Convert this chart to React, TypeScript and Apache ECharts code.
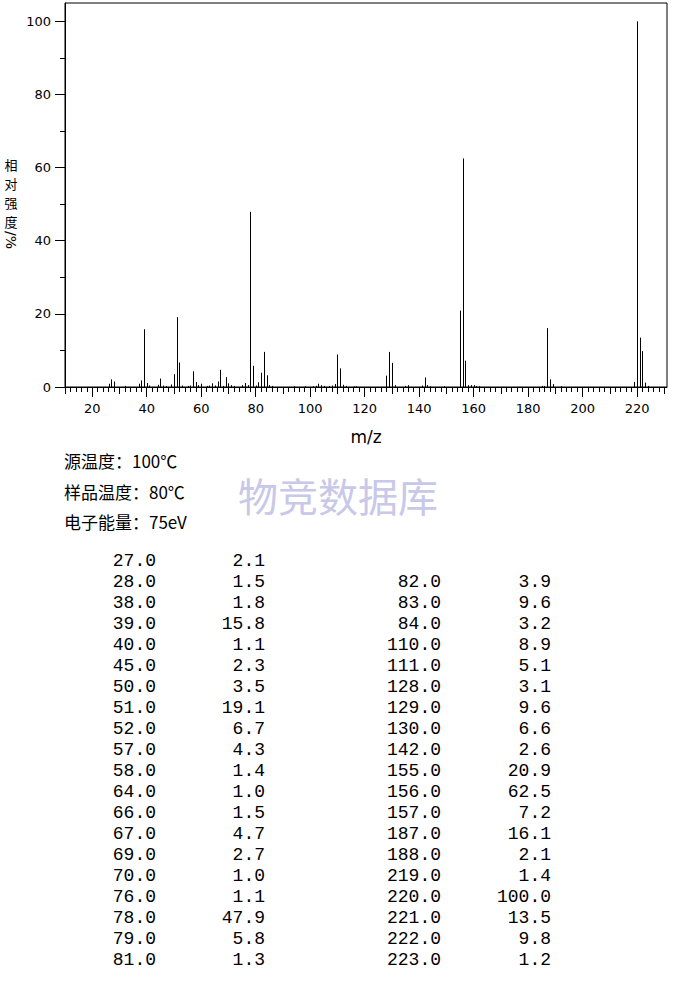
import React, { useEffect, useRef } from "react";
import * as echarts from "echarts";

// m/z of every peak drawn in the spectrum
const mzValues = [
  26, 27, 28, 32, 37, 38, 39, 40, 41, 44, 45, 46, 47, 49, 50, 51, 52, 53, 55, 56,
  57, 58, 59, 60, 62, 63, 64, 65, 66, 67, 68, 69, 70, 71, 72, 75, 76, 77, 78, 79,
  80, 81, 82, 83, 84, 85, 86, 94, 98, 101, 102, 103, 104, 105, 107, 108, 109, 110, 111, 112,
  113, 116, 117, 128, 129, 130, 131, 135, 136, 141, 142, 143, 144, 149, 155, 156, 157, 158, 159, 160,
  161, 162, 185, 186, 187, 188, 189, 192, 219, 220, 221, 222, 223, 224,
];
// relative intensity (%) of each peak
const intensities = [
  0.9, 2.1, 1.5, 0.3, 0.9, 1.8, 15.8, 1.1, 0.4, 0.6, 2.3, 0.4, 0.3, 0.7, 3.5, 19.1, 6.7, 0.4, 0.3, 0.4,
  4.3, 1.4, 0.5, 0.9, 0.3, 0.4, 1.0, 0.4, 1.5, 4.7, 0.3, 2.7, 1.0, 0.5, 0.3, 0.5, 1.1, 0.5, 47.9, 5.8,
  0.4, 1.3, 3.9, 9.6, 3.2, 0.5, 0.3, 0.2, 0.2, 0.2, 0.3, 0.9, 0.5, 0.3, 0.3, 0.4, 0.8, 8.9, 5.1, 0.6,
  0.3, 0.2, 0.2, 3.1, 9.6, 6.6, 0.5, 0.3, 0.5, 0.4, 2.6, 0.5, 0.2, 0.2, 20.9, 62.5, 7.2, 0.5, 0.5, 0.5,
  0.3, 0.2, 0.3, 0.3, 16.1, 2.1, 0.8, 0.2, 1.4, 100.0, 13.5, 9.8, 1.2, 0.3,
];

const xLabelValues = [20, 40, 60, 80, 100, 120, 140, 160, 180, 200, 220];
const xMidTickValues = [10, 20, 30, 40, 50, 60, 70, 80, 90, 100, 110, 120, 130, 140, 150, 160, 170, 180, 190, 200, 210, 220, 230];
const xMinorTickValues = Array.from({ length: 111 }, (_, i) => 10 + i * 2);
const yLabelValues = [0, 20, 40, 60, 80, 100];
const yMinorTickValues = [10, 30, 50, 70, 90];

const infoLines = ["源温度：100℃", "样品温度：80℃", "电子能量：75eV"];
const watermark = "物竞数据库";
const yTitleChars = ["相", "对", "强", "度"];
const yTitleUnit = "/%";
const xTitle = "m/z";

const X_MIN = 10;
const X_MAX = 231;
const Y_MIN = 0;
const Y_MAX = 105;

const CJK = '"Noto Sans CJK SC", sans-serif';
const AXIS_FONT = '"DejaVu Sans", sans-serif';
const MONO = '"Liberation Mono", monospace';

export default function App() {
  const ref = useRef<HTMLDivElement>(null);

  useEffect(() => {
    if (!ref.current) return;
    const chart = echarts.init(ref.current, undefined, { renderer: "svg" });

    const gridBox = { left: 65, top: 3, width: 602, height: 384 };

    // table rows built from the peaks >= 1 %
    const tableRows: [number, number][] = [];
    mzValues.forEach((m, i) => {
      if (intensities[i] >= 1) tableRows.push([m, intensities[i]]);
    });
    const leftCount = Math.ceil(tableRows.length / 2);
    const rightCount = tableRows.length - leftCount;
    const rightOffset = leftCount - rightCount;

    const tableGraphics: any[] = [];
    const rowY0 = 561;
    const rowStep = 21;
    const cellStyle = (text: string) => ({
      text,
      font: `18px ${MONO}`,
      fill: "#000",
      align: "right",
      verticalAlign: "middle",
    });
    tableRows.forEach((r, i) => {
      let row: number, xm: number, xi: number;
      if (i < leftCount) {
        row = i;
        xm = 156;
        xi = 265;
      } else {
        row = i - leftCount + rightOffset;
        xm = 441;
        xi = 551;
      }
      const y = rowY0 + row * rowStep;
      tableGraphics.push({ type: "text", x: xm, y, style: cellStyle(r[0].toFixed(1)) });
      tableGraphics.push({ type: "text", x: xi, y, style: cellStyle(r[1].toFixed(1)) });
    });

    const infoGraphics = infoLines.map((t, i) => ({
      type: "text",
      x: 64,
      y: [460, 491, 521][i],
      style: { text: t, font: `17px ${CJK}`, fill: "#000", align: "left", verticalAlign: "middle" },
    }));

    const yTitleGraphics = yTitleChars.map((c, i) => ({
      type: "text",
      x: 11,
      y: 164 + i * 19,
      style: { text: c, font: `13px ${CJK}`, fill: "#000", align: "center", verticalAlign: "middle" },
    }));

    const option: any = {
      animation: false,
      grid: [
        { ...gridBox, show: true, borderColor: "#000", borderWidth: 1, backgroundColor: "transparent" },
        { ...gridBox, show: false },
        { ...gridBox, show: false },
      ],
      xAxis: [
        {
          type: "value",
          gridIndex: 0,
          min: X_MIN,
          max: X_MAX,
          axisLine: { show: true, onZero: false, lineStyle: { color: "#000", width: 1 } },
          axisTick: { show: true, customValues: xLabelValues, length: 10, lineStyle: { color: "#000", width: 1 } },
          axisLabel: { show: true, customValues: xLabelValues, margin: 15, color: "#000", fontSize: 13, fontFamily: AXIS_FONT },
          splitLine: { show: false },
          name: xTitle,
          nameLocation: "middle",
          nameGap: 41,
          nameTextStyle: { color: "#000", fontSize: 17, fontFamily: AXIS_FONT },
        },
        {
          type: "value",
          gridIndex: 1,
          min: X_MIN,
          max: X_MAX,
          axisLine: { show: false, onZero: false },
          axisTick: { show: true, customValues: xMidTickValues, length: 7, lineStyle: { color: "#000", width: 1 } },
          axisLabel: { show: false },
          splitLine: { show: false },
        },
        {
          type: "value",
          gridIndex: 2,
          min: X_MIN,
          max: X_MAX,
          axisLine: { show: false, onZero: false },
          axisTick: { show: true, customValues: xMinorTickValues, length: 5, lineStyle: { color: "#000", width: 1 } },
          axisLabel: { show: false },
          splitLine: { show: false },
        },
      ],
      yAxis: [
        {
          type: "value",
          gridIndex: 0,
          min: Y_MIN,
          max: Y_MAX,
          axisLine: { show: true, onZero: false, lineStyle: { color: "#000", width: 1 } },
          axisTick: { show: true, customValues: yLabelValues, length: 10, lineStyle: { color: "#000", width: 1 } },
          axisLabel: { show: true, customValues: yLabelValues, margin: 14, color: "#000", fontSize: 13, fontFamily: AXIS_FONT },
          splitLine: { show: false },
        },
        {
          type: "value",
          gridIndex: 1,
          min: Y_MIN,
          max: Y_MAX,
          axisLine: { show: false, onZero: false },
          axisTick: { show: true, customValues: yMinorTickValues, length: 5, lineStyle: { color: "#000", width: 1 } },
          axisLabel: { show: false },
          splitLine: { show: false },
        },
        {
          type: "value",
          gridIndex: 2,
          min: Y_MIN,
          max: Y_MAX,
          show: false,
          splitLine: { show: false },
        },
      ],
      series: [
        {
          type: "custom",
          xAxisIndex: 0,
          yAxisIndex: 0,
          silent: true,
          clip: false,
          data: mzValues.map((m, i) => [m, intensities[i]]),
          renderItem: (_params: any, api: any) => {
            const x = api.value(0);
            const y = api.value(1);
            const p0 = api.coord([x, 0]);
            const p1 = api.coord([x, y]);
            const px = Math.round(p0[0]) + 0.5;
            return {
              type: "line",
              shape: { x1: px, y1: p0[1], x2: px, y2: p1[1] },
              style: { stroke: "#000", lineWidth: 1 },
            };
          },
        },
      ],
      graphic: [
        ...yTitleGraphics,
        {
          type: "text",
          x: 11,
          y: 240,
          rotation: -Math.PI / 2,
          style: { text: yTitleUnit, font: `14px ${AXIS_FONT}`, fill: "#000", align: "center", verticalAlign: "middle" },
        },
        ...infoGraphics,
        {
          type: "text",
          x: 238,
          y: 495,
          style: { text: watermark, font: `40px ${CJK}`, fill: "#c8c8e8", align: "left", verticalAlign: "middle" },
        },
        ...tableGraphics,
      ],
    };

    chart.setOption(option);
    return () => {
      chart.dispose();
    };
  }, []);

  return (
    <div
      ref={ref}
      style={{ position: "absolute", left: 0, top: 0, width: 680, height: 992, background: "#fff" }}
    />
  );
}
